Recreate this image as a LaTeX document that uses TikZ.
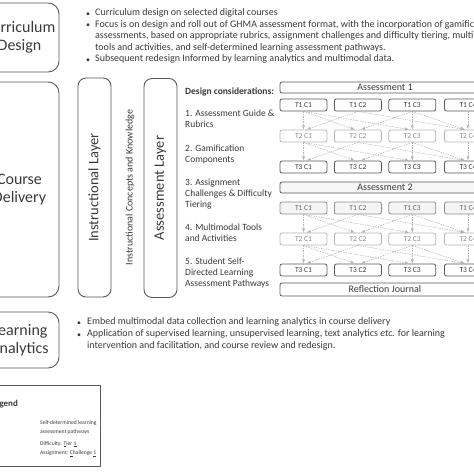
\documentclass[tikz,border=0pt]{standalone}
\usepackage{fontspec}
\setmainfont{Carlito}
\usepackage{tikz}
\usetikzlibrary{positioning, arrows}

\definecolor{boxgray}{HTML}{595959}
\definecolor{txtgray}{HTML}{3A3A3A}
\definecolor{lightline}{HTML}{B4B4B4}
\definecolor{midline}{HTML}{8C8C8C}

\tikzset{
  phase/.style={draw=boxgray, line width=0.9pt, rounded corners=11pt, minimum width=79, align=center, font=\fontsize{16}{18}\selectfont, text=txtgray},
  layer/.style={draw=boxgray, line width=0.9pt, rounded corners=8pt, rotate=90, minimum width=219, minimum height=33, font=\fontsize{14.5}{16}\selectfont, text=txtgray},
  bullets/.style={anchor=north west, inner sep=0pt, align=left, font=\fontsize{10}{11.5}\selectfont, text=txtgray},
  bulletdot/.style={anchor=north west, inner sep=0pt, text height=7.3pt, font=\fontsize{8}{11.5}\selectfont, text=txtgray},
  consid/.style={anchor=north west, inner sep=0pt, align=left, font=\fontsize{9.5}{11}\selectfont, text=txtgray},
  bar/.style={draw=boxgray, line width=0.8pt, rounded corners=2pt, minimum width=210, minimum height=11, inner sep=0pt, font=\fontsize{10}{11}\selectfont, text=txtgray},
  tbox/.style={rounded corners=2pt, minimum width=47, minimum height=12, inner sep=0pt, font=\fontsize{7.5}{8}\selectfont, line width=0.8pt},
  tdark/.style={draw=boxgray, text=txtgray},
  tmid/.style={draw=midline, fill=gray!8, text=txtgray!80},
  tlight/.style={draw=lightline, text=midline},
  pathway/.style={draw=lightline, dash pattern=on 1.5pt off 1pt, line width=0.5pt, -latex},
  legtext/.style={anchor=north west, inner sep=0pt, align=left, font=\fontsize{5.6}{9.5}\selectfont, text=txtgray},
}

\begin{document}
\begin{tikzpicture}[x=1pt, y=-1pt]
\useasboundingbox (0,0) rectangle (474,474);
\clip (0,0) rectangle (474,474);

% phases on the left
\node[phase, minimum height=69] (design) at (19.5,37.5) {Curriculum\\Design};
\node[phase, minimum height=215] (delivery) at (19.5,189.5) {Course\\Delivery};
\node[phase, minimum height=56] (analytics) at (19.5,340) {Learning\\Analytics};

% notes beside the phases
\node[bulletdot] (bd1) at (86,8.7) {\textbullet};
\node[bullets] (note1) at (95,8.7) {Curriculum design on selected digital courses};
\node[bulletdot] (bd2) at (86,20.2) {\textbullet};
\node[bullets] (note2) at (95,20.2) {Focus is on design and roll out of GHMA assessment format, with the incorporation of gamification\\
assessments, based on appropriate rubrics, assignment challenges and difficulty tiering, multimodal\\
tools and activities, and self-determined learning assessment pathways.};
\node[bulletdot] (bd3) at (86,54.7) {\textbullet};
\node[bullets] (note3) at (95,54.7) {Subsequent redesign Informed by learning analytics and multimodal data.};

\node[bulletdot] (bd4) at (77,317.7) {\textbullet};
\node[bullets] (note4) at (87,317.7) {Embed multimodal data collection and learning analytics in course delivery};
\node[bulletdot] (bd5) at (77,329.7) {\textbullet};
\node[bullets] (note5) at (87,329.7) {Application of supervised learning, unsupervised learning, text analytics \textit{etc.} for learning\\
intervention and facilitation, and course review and redesign.};

% layers
\node[layer] (instr) at (94.5,187.5) {Instructional Layer};
\node[rotate=90, font=\fontsize{10}{12}\selectfont, text=txtgray] (concepts) at (130,187.5) {Instructional Concepts and Knowledge};
\node[layer] (assess) at (160.5,188) {Assessment Layer};

% design considerations
\node[consid] (dc0) at (185,87.3) {\textbf{Design considerations:}};
\node[consid] (dc1) at (185,109.3) {1. Assessment Guide \&\\Rubrics};
\node[consid] (dc2) at (185,144.3) {2. Gamification\\Components};
\node[consid] (dc3) at (185,178.3) {3. Assignment\\Challenges \& Difficulty\\Tiering};
\node[consid] (dc4) at (185,223.3) {4. Multimodal Tools\\and Activities};
\node[consid] (dc5) at (185,257.3) {5. Student Self-\\Directed Learning\\Assessment Pathways};

% assessments, tiers and challenges
\node[bar] (assess1) at (385,87.5) {Assessment 1};
\node[bar, fill=gray!6] (assess2) at (385,187.5) {Assessment 2};
\node[bar, minimum height=13] (journal) at (385,289.5) {Reflection Journal};

\foreach \sn/\y/\ra/\rb/\rc in {1/105/tdark/tlight/tdark, 2/208/tmid/tlight/tdark}
  \foreach \col/\x in {1/303.5,2/357.9,3/412.3,4/468} {
    \node[tbox,\ra] (t\sn1\col) at (\x,\y) {T1 C\col};
    \node[tbox,\rb] (t\sn2\col) at (\x,{\y+31}) {T2 C\col};
    \node[tbox,\rc] (t\sn3\col) at (\x,{\y+62}) {T3 C\col};
  }

% self-determined pathways
\foreach \sn in {1,2}
  \foreach \a/\b in {1/2,2/3}
    \foreach \i/\j in {1/1,1/2,1/3,2/1,2/4,3/2,3/3,3/4,4/4} {
      \pgfmathsetmacro\off{-3*sign(\j-\i)}
      \draw[pathway] (t\sn\a\i.south) -- ([xshift=\off pt]t\sn\b\j.north);
    }

% legend
\node[draw=boxgray, line width=0.8pt, minimum width=160, minimum height=81] (legend) at (20,425.5) {};
\node[anchor=base west, inner sep=0pt, font=\bfseries\fontsize{9}{10}\selectfont, text=txtgray] (legtitle) at (-9,406) {Legend};
\node[legtext] (leg1) at (40,420) {Self-determined learning\\assessment pathways};
\node[legtext] (leg2) at (40,441) {Difficulty: \underline{T}ier \underline{1}\\Assignment: \underline{C}hallenge \underline{1}};

\end{tikzpicture}
\end{document}
